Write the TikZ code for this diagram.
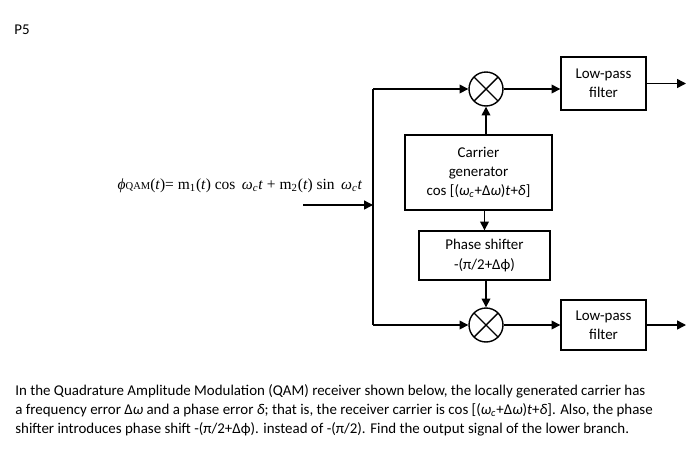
\documentclass[tikz,border=0pt]{standalone}
\usepackage{fontspec}
\setmainfont{Carlito}
\newfontfamily\tms{Liberation Serif}
\usetikzlibrary{arrows.meta}
\begin{document}
\begin{tikzpicture}[x=0.02cm,y=-0.02cm,
  box/.style={draw,thick,align=center,inner sep=0pt,font=\fontsize{8.5}{11}\selectfont},
  mix/.style={draw,thick,circle,minimum size=0.68cm,inner sep=0pt,path picture={
     \draw[thick] (path picture bounding box.north west)--(path picture bounding box.south east)
     (path picture bounding box.north east)--(path picture bounding box.south west);}},
  arr/.style={thick,-{Triangle[length=5pt,width=5pt]}},
  ln/.style={thick}]
\useasboundingbox (0,0) rectangle (700,454);
\node[font=\fontsize{8.5}{9}\selectfont] (p5) at (22,30) {P5};
\node[mix] (m1) at (486,89) {};
\node[mix] (m2) at (486,325) {};
\node[box,minimum width=2.94cm,minimum height=1.5cm] (cg) at (478.5,172.5) {Carrier\\generator\\cos [(\textit{ω\textsubscript{c}}+Δ\textit{ω})\textit{t}+\textit{δ}]};
\node[box,minimum width=2.62cm,minimum height=0.98cm] (ps) at (484.5,255.5) {Phase shifter\\-(π/2+Δϕ)};
\node[box,minimum width=1.7cm,minimum height=1.06cm] (l1) at (603.5,83.5) {Low-pass\\filter};
\node[box,minimum width=1.7cm,minimum height=1.0cm] (l2) at (603.5,325) {Low-pass\\filter};
\coordinate (o1) at (686,83.5);
\coordinate (o2) at (686,325);
\coordinate (vt) at (373,89);
\coordinate (vb) at (373,325);
\coordinate (vm) at (373,205);
\coordinate (in) at (303,205);
\node[font=\tms\fontsize{8.8}{10}\selectfont] (f) at (240,186) {\textit{ϕ}{\fontsize{6}{7}\selectfont QAM}(\textit{t})= m\textsubscript{1}(\textit{t}) cos \,\textit{ω\textsubscript{c}t} + m\textsubscript{2}(\textit{t}) sin \,\textit{ω\textsubscript{c}t}};
\draw[ln] (vt)--(vb);
\draw[arr] (in)--(vm);
\draw[arr] (vt)--(m1);
\draw[arr] (vb)--(m2);
\draw[arr] (cg.north -| m1)--(m1);
\draw[arr] (cg.south -| ps)--(ps);
\draw[arr] (ps.south -| m2)--(m2);
\draw[arr] (m1)--(l1.west |- m1);
\draw[arr] (m2)--(l2);
\draw[arr] (l1)--(o1);
\draw[arr] (l2)--(o2);
\node[anchor=north west,align=left,inner sep=0pt,font=\fontsize{8.5}{10.8}\selectfont] (txt) at (15,384) {In the Quadrature Amplitude Modulation (QAM) receiver shown below, the locally generated carrier has\\a frequency error Δ\textit{ω} and a phase error \textit{δ}; that is, the receiver carrier is cos [(\textit{ω\textsubscript{c}}+Δ\textit{ω})\textit{t}+\textit{δ}]. Also, the phase\\shifter introduces phase shift -(π/2+Δϕ). instead of -(π/2). Find the output signal of the lower branch.};
\end{tikzpicture}
\end{document}
